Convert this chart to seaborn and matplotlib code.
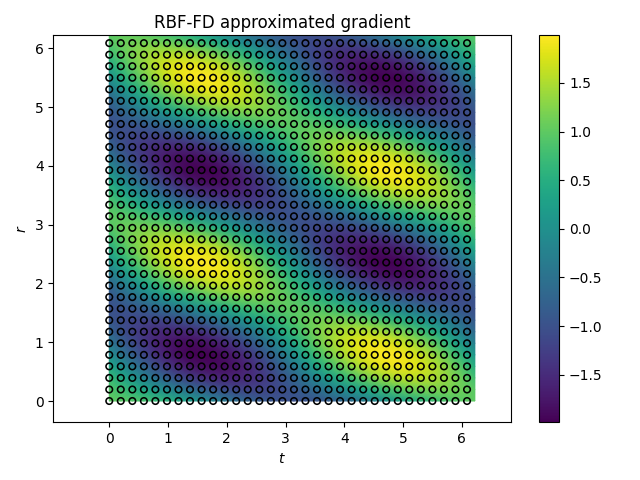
import numpy as np
import pandas as pd
import matplotlib
matplotlib.use('Agg')
import matplotlib.pyplot as plt
import seaborn as sns

# node positions
t_nodes = [0, .196, .393, .589, .785, .982, 1.178, 1.374, 1.571, 1.767, 1.963, 2.160, 2.356, 2.553, 2.749, 2.945,
           3.142, 3.338, 3.534, 3.731, 3.927, 4.123, 4.320, 4.516, 4.712, 4.909, 5.105, 5.301, 5.498, 5.694, 5.890, 6.087]
r_nodes = list(t_nodes)
# background reaches a bit past the last node
t_edge = 6.22
r_edge = 6.22

# values, rows go up in r, last entry of a row is at t_edge
# the picture repeats after r = pi so the 16 rows are used twice
field_rows = [
    [1.00, .98, .92, .83, .71, .56, .38, .20, 0, -.20, -.38, -.56, -.71, -.83, -.92, -.98, -1.00, -.98, -.92, -.83, -.71, -.56, -.38, -.20, 0, .20, .38, .56, .71, .83, .92, .98, 1.00],
    [.92, .76, .56, .34, .11, -.12, -.35, -.57, -.77, -.93, -1.06, -1.15, -1.19, -1.19, -1.15, -1.06, -.92, -.76, -.56, -.34, -.11, .12, .35, .57, .77, .93, 1.06, 1.15, 1.19, 1.19, 1.15, 1.06, .97],
    [.71, .42, .11, -.20, -.50, -.78, -1.04, -1.25, -1.41, -1.53, -1.58, -1.57, -1.50, -1.37, -1.20, -.97, -.71, -.42, -.11, .20, .50, .78, 1.04, 1.25, 1.41, 1.53, 1.58, 1.57, 1.50, 1.37, 1.20, .97, .79],
    [.38, .02, -.35, -.71, -1.04, -1.32, -1.56, -1.74, -1.85, -1.89, -1.86, -1.75, -1.58, -1.35, -1.06, -.74, -.38, -.02, .35, .71, 1.04, 1.32, 1.56, 1.74, 1.85, 1.89, 1.86, 1.75, 1.58, 1.35, 1.06, .74, .50],
    [0, -.39, -.77, -1.11, -1.41, -1.66, -1.85, -1.96, -1.99, -1.96, -1.85, -1.66, -1.41, -1.11, -.77, -.39, 0, .39, .77, 1.11, 1.41, 1.66, 1.85, 1.96, 1.99, 1.96, 1.85, 1.66, 1.41, 1.11, .77, .39, .13],
    [-.38, -.74, -1.06, -1.35, -1.58, -1.75, -1.86, -1.89, -1.85, -1.74, -1.56, -1.32, -1.04, -.71, -.35, .02, .38, .74, 1.06, 1.35, 1.58, 1.75, 1.86, 1.89, 1.85, 1.74, 1.56, 1.32, 1.04, .71, .35, -.02, -.27],
    [-.71, -.97, -1.20, -1.37, -1.50, -1.57, -1.58, -1.53, -1.41, -1.25, -1.04, -.78, -.50, -.20, .11, .42, .71, .97, 1.20, 1.37, 1.50, 1.57, 1.58, 1.53, 1.41, 1.25, 1.04, .78, .50, .20, -.11, -.42, -.62],
    [-.92, -1.06, -1.15, -1.19, -1.19, -1.15, -1.06, -.93, -.77, -.57, -.35, -.12, .11, .34, .56, .76, .92, 1.06, 1.15, 1.19, 1.19, 1.15, 1.06, .93, .77, .57, .35, .12, -.11, -.34, -.56, -.76, -.87],
    [-1.00, -.98, -.92, -.83, -.71, -.56, -.38, -.20, 0, .20, .38, .56, .71, .83, .92, .98, 1.00, .98, .92, .83, .71, .56, .38, .20, 0, -.20, -.38, -.56, -.71, -.83, -.92, -.98, -1.00],
    [-.92, -.76, -.56, -.34, -.11, .12, .35, .57, .77, .93, 1.06, 1.15, 1.19, 1.19, 1.15, 1.06, .92, .76, .56, .34, .11, -.12, -.35, -.57, -.77, -.93, -1.06, -1.15, -1.19, -1.19, -1.15, -1.06, -.97],
    [-.71, -.42, -.11, .20, .50, .78, 1.04, 1.25, 1.41, 1.53, 1.58, 1.57, 1.50, 1.37, 1.20, .97, .71, .42, .11, -.20, -.50, -.78, -1.04, -1.25, -1.41, -1.53, -1.58, -1.57, -1.50, -1.37, -1.20, -.97, -.79],
    [-.38, -.02, .35, .71, 1.04, 1.32, 1.56, 1.74, 1.85, 1.89, 1.86, 1.75, 1.58, 1.35, 1.06, .74, .38, .02, -.35, -.71, -1.04, -1.32, -1.56, -1.74, -1.85, -1.89, -1.86, -1.75, -1.58, -1.35, -1.06, -.74, -.50],
    [0, .39, .77, 1.11, 1.41, 1.66, 1.85, 1.96, 1.99, 1.96, 1.85, 1.66, 1.41, 1.11, .77, .39, 0, -.39, -.77, -1.11, -1.41, -1.66, -1.85, -1.96, -1.99, -1.96, -1.85, -1.66, -1.41, -1.11, -.77, -.39, -.13],
    [.38, .74, 1.06, 1.35, 1.58, 1.75, 1.86, 1.89, 1.85, 1.74, 1.56, 1.32, 1.04, .71, .35, -.02, -.38, -.74, -1.06, -1.35, -1.58, -1.75, -1.86, -1.89, -1.85, -1.74, -1.56, -1.32, -1.04, -.71, -.35, .02, .27],
    [.71, .97, 1.20, 1.37, 1.50, 1.57, 1.58, 1.53, 1.41, 1.25, 1.04, .78, .50, .20, -.11, -.42, -.71, -.97, -1.20, -1.37, -1.50, -1.57, -1.58, -1.53, -1.41, -1.25, -1.04, -.78, -.50, -.20, .11, .42, .62],
    [.92, 1.06, 1.15, 1.19, 1.19, 1.15, 1.06, .93, .77, .57, .35, .12, -.11, -.34, -.56, -.76, -.92, -1.06, -1.15, -1.19, -1.19, -1.15, -1.06, -.93, -.77, -.57, -.35, -.12, .11, .34, .56, .76, .87],
]
# row at r_edge
top_row = [.99, 1.03, 1.04, 1.00, .93, .82, .68, .52, .33, .13, -.07, -.27, -.46, -.64, -.79, -.90, -.99, -1.03, -1.04, -1.00, -.93, -.82, -.68, -.52, -.33, -.13, .07, .27, .46, .64, .79, .90, .96]

field = np.array(field_rows + field_rows + [top_row])
mesh_t = t_nodes + [t_edge]
mesh_r = r_nodes + [r_edge]

tt, rr = np.meshgrid(t_nodes, r_nodes)
nodes = pd.DataFrame({'t': tt.ravel(), 'r': rr.ravel()})

fig = plt.figure(figsize=(6.4, 4.8))
ax = fig.add_axes([53.3 / 640, 57.7 / 480, 458 / 640, 387 / 480])
cax = fig.add_axes([539.3 / 640, 57.7 / 480, 20 / 640, 387 / 480])
mesh = ax.pcolormesh(mesh_t, mesh_r, field, shading='gouraud', cmap='viridis', vmin=-1.99, vmax=1.99)
sns.scatterplot(data=nodes, x='t', y='r', s=22, facecolor='none', edgecolor='k', linewidth=1.15, legend=False, ax=ax, clip_on=False)
fig.colorbar(mesh, cax=cax)

ax.set_xlim(-.952, 6.84)
ax.set_ylim(-.362, 6.22)
ax.set_xlabel('$t$')
ax.set_ylabel('$r$')
ax.set_title('RBF-FD approximated gradient', pad=5)
fig.savefig('out.png', dpi=100)
